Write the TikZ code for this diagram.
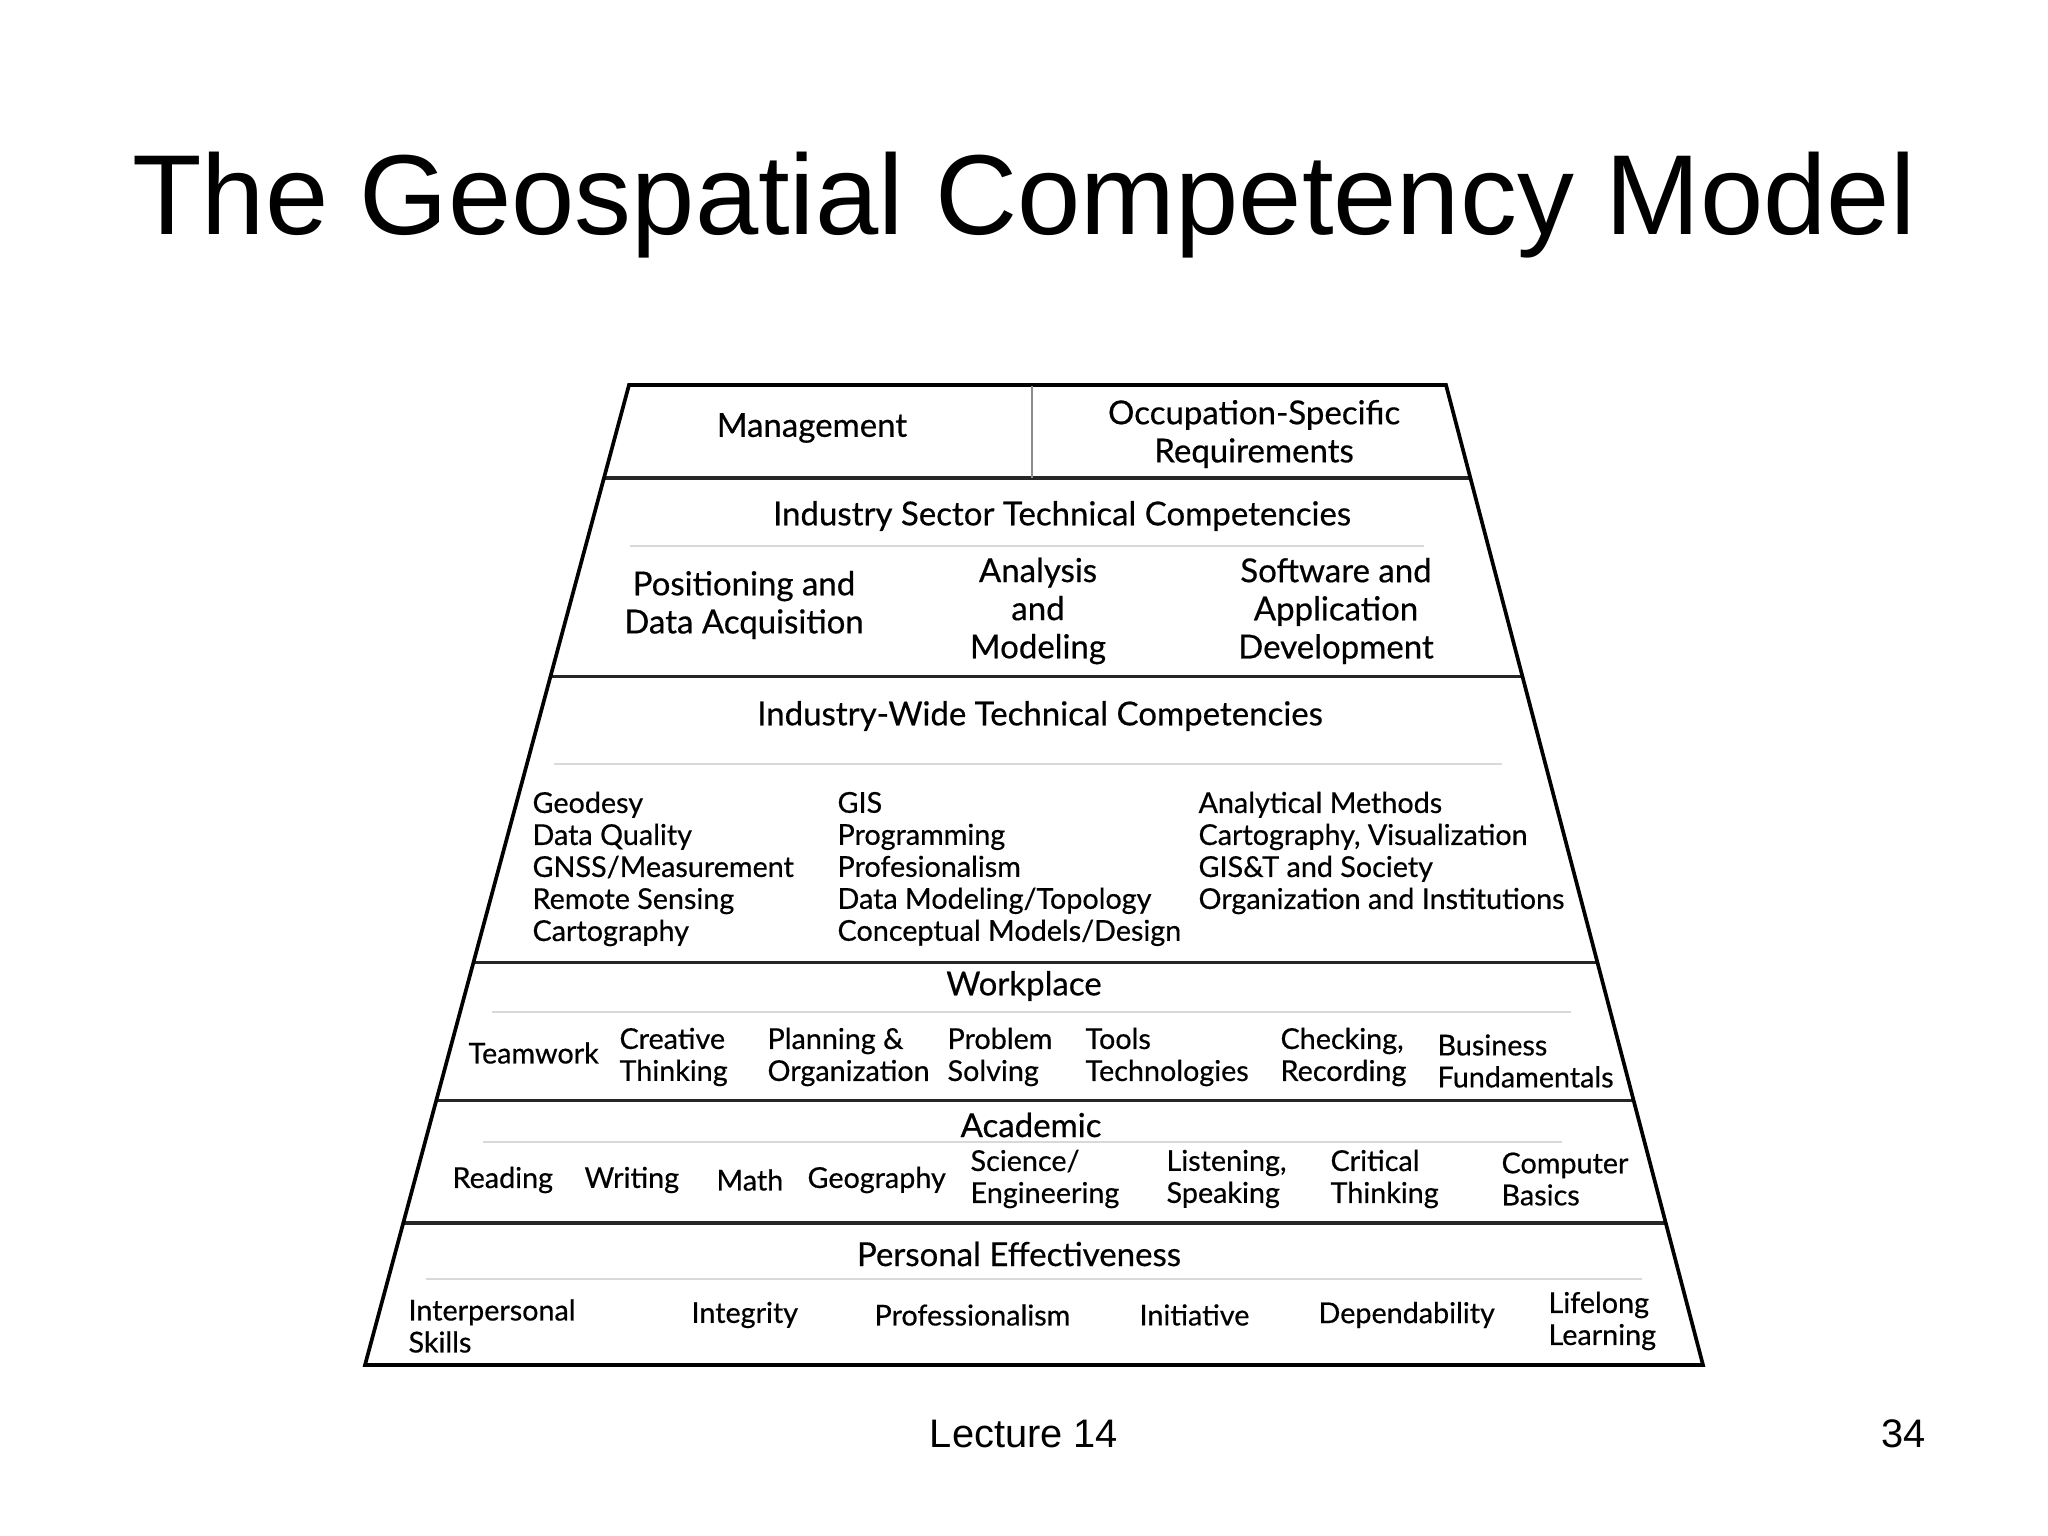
\documentclass[tikz,border=0pt]{standalone}
\usepackage{fontspec}
\setmainfont{Liberation Sans}
\newfontfamily\skillfont[FakeBold=0.5]{Lato}
\usetikzlibrary{calc}

\begin{document}
\begin{tikzpicture}[
    x=0.3515625bp, y=-0.3515625bp,
    frame/.style={draw=black, line width=1.3bp, line join=miter},
    tier/.style={draw=black!85, line width=1.1bp},
    rule/.style={draw=black!15, line width=0.9bp},
    head/.style={
        font=\skillfont\fontsize{11.6bp}{13.4bp}\selectfont,
        inner sep=0pt, align=center
    },
    skill/.style={
        font=\skillfont\fontsize{10.1bp}{11.25bp}\selectfont,
        inner sep=0pt, align=left, anchor=west
    }
]
\useasboundingbox (0,0) rectangle (2048,1536);

\node[font=\fontsize{40bp}{48bp}\selectfont, anchor=base] (title) at (1024,235)
    {The Geospatial Competency Model};

% Pyramid outline and tiers
\coordinate (tl) at (629,385);
\coordinate (tr) at (1446,385);
\coordinate (br) at (1703,1365);
\coordinate (bl) at (365,1365);

\foreach \t in {0.0949,0.2974,0.5893,0.7301,0.8551}
    \draw[tier] ($(tl)!\t!(bl)$) -- ($(tr)!\t!(br)$);
\draw[frame] (tl) -- (tr) -- (br) -- (bl) -- cycle;
\draw[draw=black!45, line width=0.4bp] (1032,386) -- (1032,478);

\foreach \y/\a/\b in {546/630/1424, 764/554/1502, 1012/492/1571,
                      1142/483/1562, 1279/426/1642}
    \draw[rule] (\a,\y) -- (\b,\y);

% Top tier
\node[head] (mgmt) at (812,428) {Management};
\node[head] (occ) at (1254,434) {Occupation-Specific\\Requirements};

% Industry sector
\node[head] (sector) at (1062,516) {Industry Sector Technical Competencies};
\node[head] (posit) at (744,605) {Positioning and\\Data Acquisition};
\node[head] (analysis) at (1038,611) {Analysis\\and\\Modeling};
\node[head] (software) at (1336,611) {Software and\\Application\\Development};

% Industry-wide
\node[head] (wide) at (1040,716) {Industry-Wide Technical Competencies};
\node[skill] (wideA) at (532,869)
    {Geodesy\\Data Quality\\GNSS/Measurement\\Remote Sensing\\Cartography};
\node[skill] (wideB) at (837,869)
    {GIS\\Programming\\Profesionalism\\Data Modeling/Topology\\Conceptual Models/Design};
\node[skill] (wideC) at (1198,853)
    {Analytical Methods\\Cartography, Visualization\\GIS\&T and Society\\Organization and Institutions};

% Workplace
\node[head] (workplace) at (1024,986) {Workplace};
\node[skill] (teamwork) at (468,1053) {Teamwork};
\node[skill] (creative) at (619,1057) {Creative\\Thinking};
\node[skill] (planning) at (767,1057) {Planning \&\\Organization};
\node[skill] (problem) at (947,1057) {Problem\\Solving};
\node[skill] (tools) at (1085,1057) {Tools\\Technologies};
\node[skill] (checking) at (1280,1057) {Checking,\\Recording};
\node[skill] (business) at (1437,1061) {Business\\Fundamentals};

% Academic
\node[head] (academic) at (1031,1125) {Academic};
\node[skill] (reading) at (452,1180) {Reading};
\node[skill] (writing) at (584,1180) {Writing};
\node[skill] (math) at (716,1180) {Math};
\node[skill] (geography) at (807,1180) {Geography};
\node[skill] (science) at (970,1179) {Science/\\Engineering};
\node[skill] (listening) at (1166,1179) {Listening,\\Speaking};
\node[skill] (critical) at (1330,1179) {Critical\\Thinking};
\node[skill] (computer) at (1501,1179) {Computer\\Basics};

% Personal effectiveness
\node[head] (personal) at (1019,1254) {Personal Effectiveness};
\node[skill] (interpersonal) at (408,1326) {Interpersonal\\Skills};
\node[skill] (integrity) at (691,1315) {Integrity};
\node[skill] (profess) at (874,1315) {Professionalism};
\node[skill] (initiative) at (1139,1315) {Initiative};
\node[skill] (depend) at (1318,1315) {Dependability};
\node[skill] (lifelong) at (1548,1321) {Lifelong\\Learning};

% Footer
\node[font=\fontsize{14bp}{16bp}\selectfont] (lecture) at (1024,1434) {Lecture 14};
\node[font=\fontsize{14bp}{16bp}\selectfont, anchor=east] (slideno) at (1936,1434) {34};

\end{tikzpicture}
\end{document}
